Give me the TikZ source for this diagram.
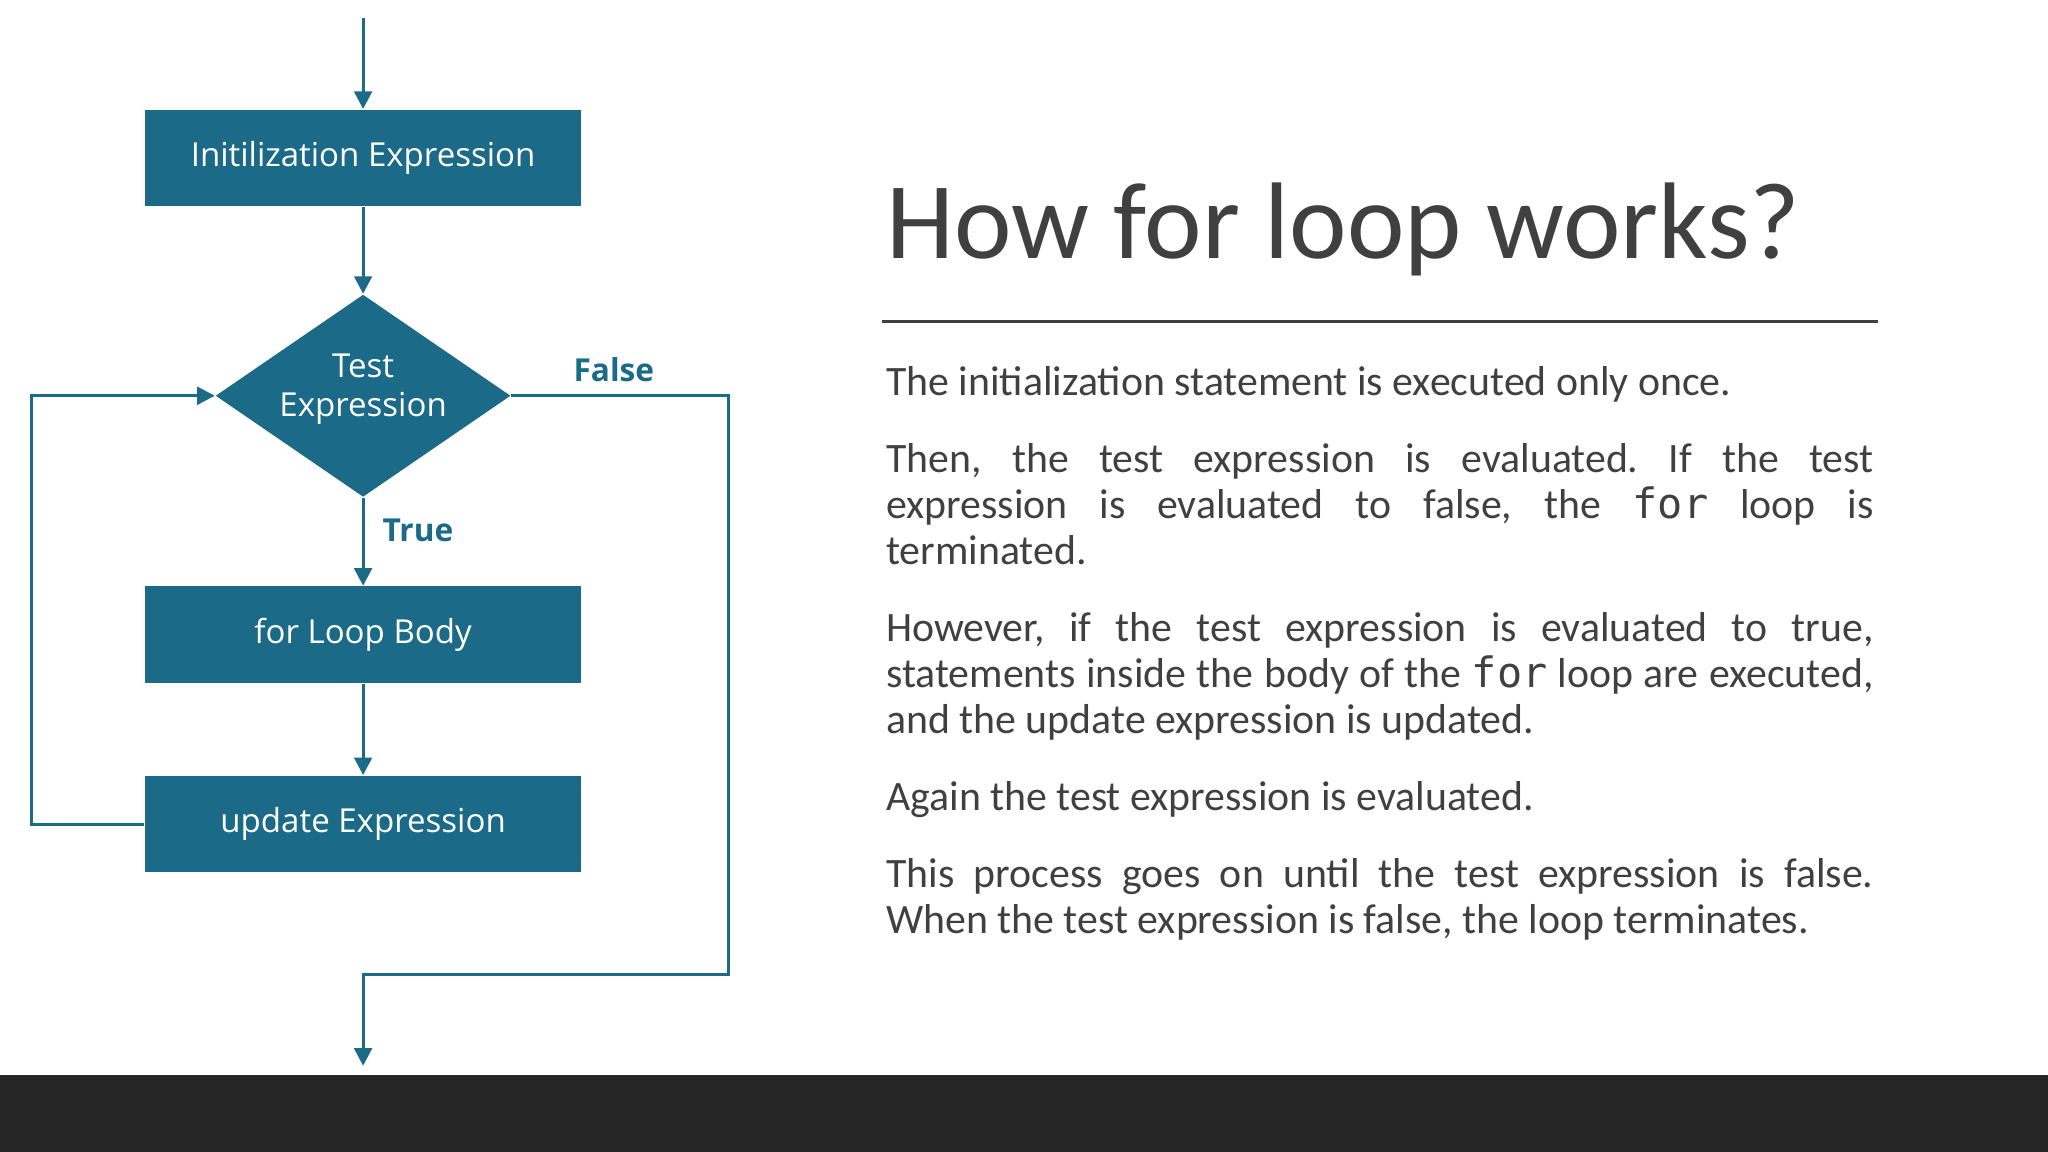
\documentclass[tikz,border=0pt]{standalone}
\usepackage{fontspec}
\setmainfont{Carlito}
\newfontfamily\diafont{Open Sans}
\newfontfamily\monof{DejaVu Sans Mono}
\usetikzlibrary{shapes.geometric,arrows.meta}
\definecolor{teal1}{HTML}{1B6A87}
\definecolor{txtg}{HTML}{404040}
\definecolor{barc}{HTML}{262626}
\tikzset{
 box/.style={fill=teal1,text=white,font=\diafont\fontsize{9.4}{11}\selectfont,minimum width=334*0.013061cm,minimum height=74*0.013061cm,inner sep=0},
 flow/.style={draw=teal1,line width=0.9pt,-{Triangle[length=5pt,width=5pt]}},
 lbl/.style={text=teal1,font=\diafont\bfseries\fontsize{9}{11}\selectfont}
}
\begin{document}
\begin{tikzpicture}[x=0.013061cm,y=-0.013061cm]
\useasboundingbox (0,0) rectangle (1568,882);
\fill[barc] (0,823) rectangle (1568,882);
\coordinate (top) at (278,14);
\node[box] (init) at (278,121) {Initilization Expression};
\node[diamond,fill=teal1,minimum width=226*0.013061cm,minimum height=155*0.013061cm,inner sep=0,aspect=1.46] (test) at (278,303) {};
\node[text=white,align=center,font=\diafont\fontsize{9.4}{11.2}\selectfont] at (278,298) {Test\\Expression};
\node[box] (body) at (278,486) {for Loop Body};
\node[box] (upd) at (278,631) {update Expression};
\coordinate (bot) at (278,816);
\draw[flow] (top) -- (init.north);
\draw[flow] (init.south) -- (test.north);
\draw[flow] (test.south) -- (body.north);
\draw[flow] (body.south) -- (upd.north);
\draw[flow] (upd.west) -- (24,631) -- (24,303) -- (test.west);
\draw[flow] (test.east) -- (558,303) -- (558,746) -- (278,746) -- (bot);
\node[lbl] at (470,283) {False};
\node[lbl] at (320,406) {True};
\node[anchor=base west,text=txtg,font=\fontsize{31}{34}\selectfont,inner sep=0] (title) at (678,198) {How for loop works?};
\draw[txtg,line width=0.8pt] (675,246) -- (1438,246);
\node[anchor=north west,inner sep=0,text=txtg,text width=756*0.013061cm,align=justify,font=\fontsize{11.9}{13.1}\selectfont] (txt) at (678,280) {%
\setlength{\parskip}{0.31cm}\frenchspacing\hyphenpenalty=10000 \emergencystretch=3em%
The initialization statement is executed only once.\par
Then, the test expression is evaluated. If the test\linebreak expression is evaluated to false, the {\monof for} loop is\linebreak terminated.\par
However, if the test expression is evaluated to true,\linebreak statements inside the body of the {\monof for} loop are executed,\linebreak and the update expression is updated.\par
Again the test expression is evaluated.\par
This process goes on until the test expression is false.\linebreak When the test expression is false, the loop terminates.};
\end{tikzpicture}
\end{document}
